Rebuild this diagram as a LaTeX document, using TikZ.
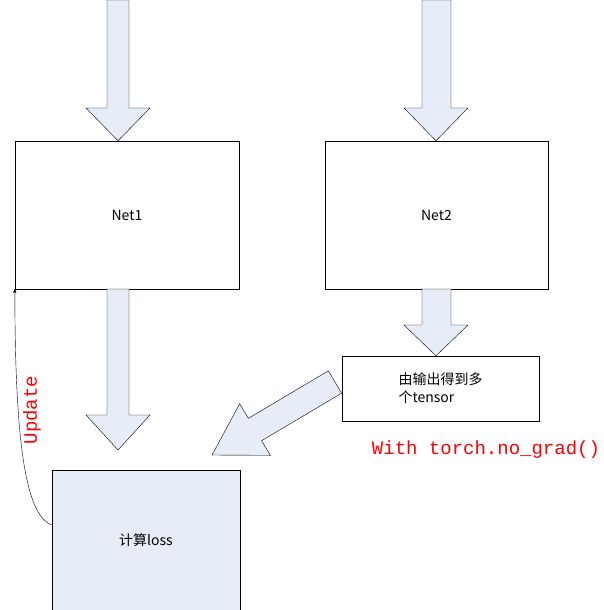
\documentclass[tikz,border=0pt]{standalone}
\usepackage{fontspec}
\setmainfont{Noto Sans CJK SC}
\newfontfamily\codefont{Liberation Mono}
\usetikzlibrary{arrows,positioning}
\definecolor{arrowfill}{HTML}{E6EDF8}
\begin{document}
\begin{tikzpicture}[x=1pt,y=-1pt,>=stealth',semithick]
  \tikzstyle{box}=[draw, rectangle, thin, font=\fontsize{14}{18}\selectfont]
  \tikzstyle{blockarrow}=[draw, thin, fill=arrowfill]
  \useasboundingbox (0,0) rectangle (604,610);

 \node[box, minimum width=224pt, minimum height=148pt] (net1) at (127,215) {Net1};
 \node[box, minimum width=223pt, minimum height=148pt] (net2) at (436.5,215) {Net2};
 \node[box, minimum width=197pt, minimum height=65pt, align=left] (outs) at (440.5,388.5) {由输出得到多\\个tensor};
 \node[box, fill=arrowfill, minimum width=188pt, minimum height=140pt] (loss) at (146,540) {计算loss};

 % block arrows
 \draw[blockarrow] (107,0) -- (129,0) -- (129,108) -- (150,108) -- (net1.north -| 118,0) -- (86,108) -- (107,108) -- cycle;
 \draw[blockarrow] (422,0) -- (451,0) -- (451,108) -- (468,108) -- (net2.north -| 436,0) -- (404,108) -- (422,108) -- cycle;
 \draw[blockarrow] (107,289) -- (129,289) -- (129,415) -- (150,415) -- (118,450) -- (86,415) -- (107,415) -- cycle;
 \draw[blockarrow] (422,289) -- (451,289) -- (451,325) -- (468,325) -- (outs.north -| 436,0) -- (404,325) -- (422,325) -- cycle;
 \draw[blockarrow] (341.6,393.2) -- (261.6,440.7) -- (270.3,455.3) -- (212,455) -- (239.7,403.7) -- (248.4,418.3) -- (328.4,370.8) -- cycle;

 \coordinate (upd) at (loss.west |- 0,525);
 \draw[->,thin] (upd) .. controls (25,515) and (15,440) .. (net1.south west);
 \node[red, rotate=90, font=\codefont\fontsize{19}{21}\selectfont] (updlabel) at (32,410) {Update};

 \node[red, font=\codefont\fontsize{19}{21}\selectfont] (nograd) at (486,450) {With torch.no\_grad()};
\end{tikzpicture}
\end{document}
